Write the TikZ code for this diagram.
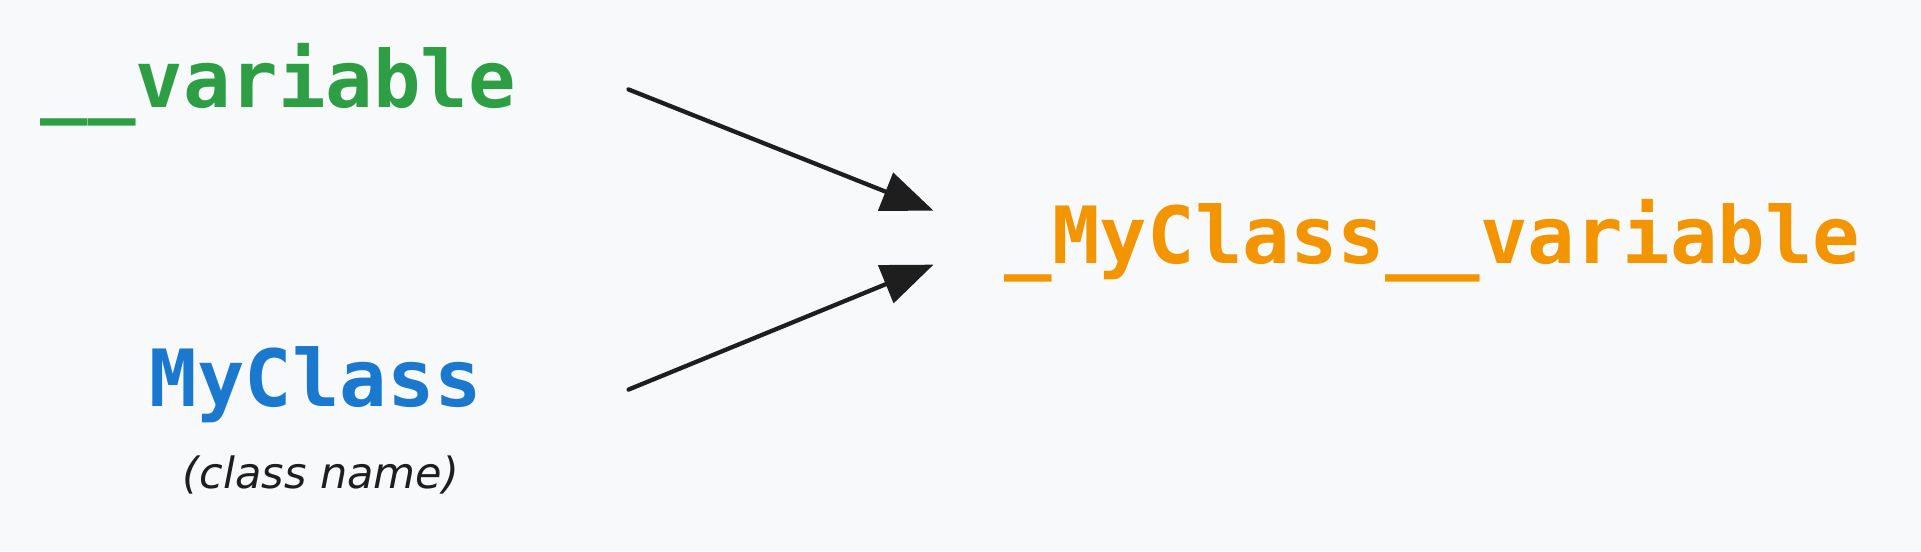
\documentclass[tikz,border=0pt]{standalone}
\usepackage{fontspec}
\setmonofont{DejaVu Sans Mono}
\newfontfamily\handfont{DejaVu Sans}
\usetikzlibrary{positioning}
\usetikzlibrary{arrows.meta}
\definecolor{bgcol}{HTML}{F8F9FB}
\definecolor{greencol}{HTML}{2E9E44}
\definecolor{bluecol}{HTML}{1A78CF}
\definecolor{orangecol}{HTML}{F29500}
\definecolor{inkcol}{HTML}{1E1E1E}
\begin{document}
\begin{tikzpicture}[x=0.03cm,y=-0.03cm,
    code/.style={font=\ttfamily\bfseries\fontsize{55}{60}\selectfont, inner sep=0pt, anchor=base west},
    arr/.style={-{Triangle[length=36pt,width=28pt]}, line width=3pt, draw=inkcol, line cap=round}]
    \fill[bgcol] (0,0) rectangle (1568,450);
    \useasboundingbox (0,0) rectangle (1568,450);
    % source names
    \node[code, text=greencol] (var) at (33,88) {\_\_variable};
    \node[code, text=bluecol] (cls) at (122,332) {MyClass};
    \node[font=\handfont\itshape\fontsize{30}{32}\selectfont, text=inkcol] (note) at (262,388) {(class name)};
    % result
    \node[code, text=orangecol] (mangled) at (820,215) {\_MyClass\_\_variable};
    % arrows
    \coordinate (a1) at (513,73);
    \coordinate (a2) at (513,318);
    \coordinate (t1) at (762,172);
    \coordinate (t2) at (762,216);
    \draw[arr] (a1) -- (t1);
    \draw[arr] (a2) -- (t2);
\end{tikzpicture}
\end{document}
